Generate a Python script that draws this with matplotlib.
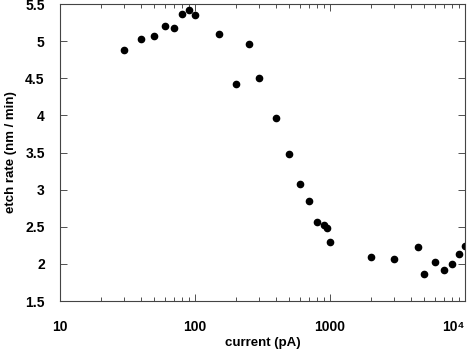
import numpy as np
import matplotlib.pyplot as plt
from matplotlib.ticker import LogLocator, FixedLocator, FixedFormatter, NullFormatter

plt.rcParams['font.family'] = ['Liberation Sans', 'DejaVu Sans']

# Data
current = [30, 40, 50, 60, 70, 80, 90, 100, 150, 200, 250, 300, 400, 500,
           600, 700, 800, 900, 950, 1000, 2000, 3000, 4500, 5000, 6000,
           7000, 8000, 9000, 10000]
etch_rate = [4.88, 5.03, 5.07, 5.21, 5.18, 5.36, 5.42, 5.35, 5.10, 4.42,
             4.96, 4.51, 3.96, 3.48, 3.07, 2.85, 2.57, 2.52, 2.48, 2.30,
             2.09, 2.06, 2.23, 1.87, 2.02, 1.92, 2.00, 2.14, 2.24]

x_ticks = [10, 100, 1000, 10000]
x_labels = ['10', '100', '1000', '10\u2074']
y_ticks = [1.5, 2, 2.5, 3, 3.5, 4, 4.5, 5, 5.5]
y_labels = ['1.5', '2', '2.5', '3', '3.5', '4', '4.5', '5', '5.5']

fig = plt.figure(figsize=(4.74, 3.55), dpi=100)
ax = fig.add_axes([0.1266, 0.152, 0.8544, 0.8367])

ax.plot(current, etch_rate, 'o', color='black', markersize=4.5)

ax.set_xscale('log')
ax.set_xlim(10, 10000)
ax.set_ylim(1.5, 5.5)

ax.xaxis.set_major_locator(FixedLocator(x_ticks))
ax.xaxis.set_major_formatter(FixedFormatter(x_labels))
ax.xaxis.set_minor_locator(LogLocator(base=10, subs=np.arange(2, 10)))
ax.xaxis.set_minor_formatter(NullFormatter())
ax.yaxis.set_major_locator(FixedLocator(y_ticks))
ax.yaxis.set_major_formatter(FixedFormatter(y_labels))

ax.tick_params(which='both', direction='in', top=True, right=True,
               width=0.6, colors='#333333', labelcolor='black',
               labelsize=10)
ax.tick_params(axis='x', pad=14)
ax.tick_params(axis='y', pad=11)
ax.tick_params(which='major', length=5)
ax.tick_params(which='minor', length=3)
for lab in ax.get_xticklabels() + ax.get_yticklabels():
    lab.set_fontweight('bold')
ax.get_xticklabels()[-1].set_horizontalalignment('right')
ax.get_xticklabels()[-1].set_x(10000)

for s in ax.spines.values():
    s.set_linewidth(0.8)
    s.set_color('#444444')

ax.set_xlabel('current (pA)', fontsize=9.5, fontweight='bold', labelpad=2)
ax.set_ylabel('etch rate (nm / min)', fontsize=9.5, fontweight='bold', labelpad=6)

fig.savefig('out.png', dpi=100)
